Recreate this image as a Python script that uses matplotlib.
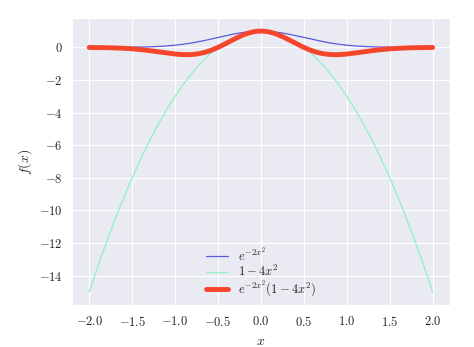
import numpy as np
import matplotlib
matplotlib.use("Agg")
import matplotlib.pyplot as plt
import seaborn as sns
from matplotlib.ticker import FuncFormatter

sns.set_style("darkgrid")
plt.rcParams["font.family"] = "serif"
plt.rcParams["mathtext.fontset"] = "cm"

# curves as given by the legend labels
x = np.linspace(-2, 2, 400)
labels = [r"$e^{-2x^2}$", r"$1-4x^2$", r"$e^{-2x^2}(1-4x^2)$"]
gauss = np.exp(-2 * x**2)
parab = 1 - 4 * x**2
prod = gauss * parab

fig = plt.figure(figsize=(4.74, 3.47), dpi=100)
ax = fig.add_axes([0.152, 0.121, 0.797, 0.827])

ax.plot(x, gauss, color="#5a5ae0", lw=0.9, label=labels[0])
ax.plot(x, parab, color="#8ef2c0", lw=0.9, label=labels[1])
ax.plot(x, prod, color="#f5452a", lw=3.5, label=labels[2])

ax.set_xticks([-2, -1.5, -1, -0.5, 0, 0.5, 1, 1.5, 2])
ax.set_yticks(range(-14, 1, 2))
ax.xaxis.set_major_formatter(FuncFormatter(lambda v, p: "$%.1f$" % v))
ax.yaxis.set_major_formatter(FuncFormatter(lambda v, p: "$%d$" % v))
ax.tick_params(labelsize=9)
ax.set_xlabel("$x$", fontsize=10)
ax.set_ylabel("$f(x)$", fontsize=10, labelpad=3)
ax.legend(loc="lower center", frameon=False, fontsize=9, labelspacing=0.0,
          borderaxespad=0.05, handlelength=1.8)

fig.savefig("out.png")
